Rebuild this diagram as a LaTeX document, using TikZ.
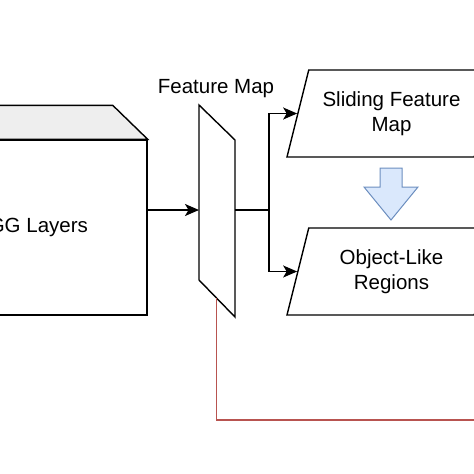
\documentclass[tikz,border=0pt]{standalone}
\usepackage{fontspec}
\setmainfont{Liberation Sans}
\usetikzlibrary{arrows.meta,shapes.geometric}
\definecolor{cubetop}{HTML}{EEEEEE}
\definecolor{arrowfill}{HTML}{DAE8FC}
\definecolor{arrowline}{HTML}{6C8EBF}
\definecolor{loopred}{HTML}{B85450}
\tikzset{
	box/.style={draw,line width=1.4pt,align=center},
	io/.style={box,trapezium,trapezium left angle=69,trapezium right angle=111,trapezium stretches body,minimum width=209pt,minimum height=87pt,inner xsep=0pt},
	conn/.style={line width=1.4pt,-{Stealth[length=14pt,width=12pt,inset=3.5pt]}}
}

\begin{document}
\begin{tikzpicture}[x=1pt,y=-1pt,font=\fontsize{20.5}{25}\selectfont]
				\useasboundingbox (0,0) rectangle (474,474);
				\clip (0,0) rectangle (474,474);
				\node[box,minimum width=231pt,minimum height=175pt] (vgg) at (31.5,227.5) {\raisebox{-3pt}{VGG Layers}};
				\draw[line width=1.4pt,fill=cubetop] (vgg.north west) -- (vgg.north east) -- ++(-35,-34) -- ++(-231,0) -- cycle;
				\draw[line width=1.4pt] (199,105) -- (235,140) -- (235,317) -- (199,280) -- cycle;
				\coordinate (fmIn) at (199,210);
				\coordinate (fmOut) at (235,210);
				\coordinate (fmBot) at (216.5,298);
				\coordinate (split) at (269,210);
				\coordinate (exit) at (490,420);
				\node (fmlabel) at (216,89) {Feature Map};
				\node[io] (slide) at (391.5,113.5) {\raisebox{-2pt}{\begin{tabular}{c}Sliding Feature\\Map\end{tabular}}};
				\node[io] (regions) at (391.5,271.5) {\raisebox{-2pt}{\begin{tabular}{c}Object-Like\\Regions\end{tabular}}};
				\path[conn]
				(vgg.east |- fmIn) edge (fmIn);
				\draw[line width=1.4pt] (fmOut) -- (split);
				\draw[conn] (split) |- (slide.left side);
				\draw[conn] (split) |- (regions.left side);
				\draw[loopred,line width=1.2pt] (fmBot) |- (exit);
				\draw[arrowline,fill=arrowfill,line width=1pt] (380,168) -- (402,168) -- (402,187) -- (418,187) -- (391,220) -- (364,187) -- (380,187) -- cycle;
			\end{tikzpicture}
\end{document}
